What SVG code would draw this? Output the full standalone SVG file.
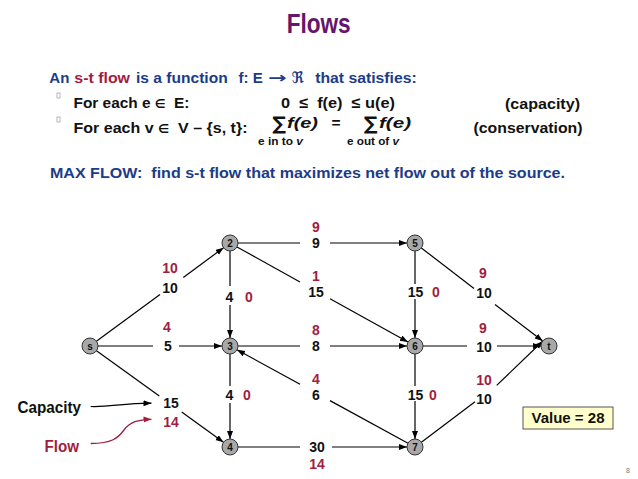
<svg xmlns="http://www.w3.org/2000/svg" width="638" height="479" viewBox="0 0 638 479">
<defs>
<style>
text{font-family:"Liberation Sans",Arial,sans-serif;font-weight:bold}
.title{font-family:"Liberation Sans Narrow","Liberation Sans",sans-serif;font-size:28px;fill:#65156b}
.blue{fill:#1c3c88;font-size:15px}
.red{fill:#a11d3f}
.blk{fill:#111;font-size:15.5px}
.pre{white-space:pre}
.sig{font-family:"DejaVu Sans",sans-serif;font-size:19px;font-weight:bold;fill:#111}
.el{font-family:"DejaVu Sans",sans-serif;font-size:12px}
.e{stroke:#000;stroke-width:1.2;fill:none}
.cap{font-size:14px;fill:#111;text-anchor:middle}
.flow{font-size:14px;fill:#a11d3f;text-anchor:middle}
.node circle{fill:#a8a8a8;stroke:#333;stroke-width:1}
.node text{font-size:10px;fill:#111;text-anchor:middle}
</style>
<marker id="ah" markerUnits="userSpaceOnUse" markerWidth="9" markerHeight="7" refX="8" refY="3" orient="auto"><path d="M0,0 L8,3 L0,6 z" fill="#000"/></marker>
<marker id="ahr" markerUnits="userSpaceOnUse" markerWidth="9" markerHeight="7" refX="8" refY="3" orient="auto"><path d="M0,0 L8,3 L0,6 z" fill="#a11d3f"/></marker>
</defs>
<rect width="638" height="479" fill="#fff"/>

<text class="title" x="286.7" y="33.3" textLength="64" lengthAdjust="spacingAndGlyphs">Flows</text>

<g id="definition">
<text class="blue" x="49.3" y="82.7">An</text>
<text class="blue red" x="74.3" y="82.7" textLength="55.7" lengthAdjust="spacingAndGlyphs">s-t flow</text>
<text class="blue" x="136" y="82.7" textLength="91.7" lengthAdjust="spacingAndGlyphs">is a function</text>
<text class="blue" x="238.6" y="82.7">f: E</text>
<text class="blue" x="268" y="83" style="font-family:'DejaVu Sans',sans-serif;font-size:15px" textLength="18.5" lengthAdjust="spacingAndGlyphs">→</text>
<text class="blue" x="291.5" y="82.7" style="font-family:'DejaVu Sans',sans-serif;font-size:16px" textLength="12.2" lengthAdjust="spacingAndGlyphs">ℜ</text>
<text class="blue" x="315.2" y="82.7" textLength="101.5" lengthAdjust="spacingAndGlyphs">that satisfies:</text>

<rect x="57" y="93" width="3" height="5" fill="none" stroke="#999" stroke-width="0.7"/>
<rect x="57" y="117" width="3" height="5" fill="none" stroke="#999" stroke-width="0.7"/>
<text class="blk pre" xml:space="preserve" x="73.5" y="108.3" textLength="116" lengthAdjust="spacingAndGlyphs">For each e <tspan class="el">∈</tspan>  E:</text>
<text class="blk pre" xml:space="preserve" x="281" y="108.3" textLength="114" lengthAdjust="spacingAndGlyphs">0  ≤  f(e)  ≤ u(e)</text>
<text class="blk" x="505" y="109" textLength="75" lengthAdjust="spacingAndGlyphs">(capacity)</text>

<text class="blk pre" xml:space="preserve" x="73.5" y="132.7" textLength="174" lengthAdjust="spacingAndGlyphs">For each v <tspan class="el">∈</tspan>  V – {s, t}:</text>
<text class="sig" x="272.5" y="129.5">∑</text>
<text class="blk" x="287" y="128" font-style="italic" textLength="31" lengthAdjust="spacingAndGlyphs">f(e)</text>
<text class="blk" x="336" y="128" text-anchor="middle">=</text>
<text class="sig" x="364" y="129.5">∑</text>
<text class="blk" x="379" y="128" font-style="italic" textLength="32" lengthAdjust="spacingAndGlyphs">f(e)</text>
<text class="blk" x="258" y="145" style="font-size:10px" textLength="45" lengthAdjust="spacingAndGlyphs">e in to <tspan font-style="italic">v</tspan></text>
<text class="blk" x="347" y="145" style="font-size:10px" textLength="52" lengthAdjust="spacingAndGlyphs">e out of <tspan font-style="italic">v</tspan></text>
<text class="blk" x="473.5" y="133" textLength="109" lengthAdjust="spacingAndGlyphs">(conservation)</text>

<text class="blue pre" xml:space="preserve" x="50" y="178.3" textLength="515" lengthAdjust="spacingAndGlyphs">MAX FLOW:  find s-t flow that maximizes net flow out of the source.</text>
</g>

<g id="connectors">
<line class="e" x1="96.4" y1="341.3" x2="160" y2="294.5"/><line class="e" x1="183.3" y1="277.4" x2="223.6" y2="247.7" marker-end="url(#ah)"/>
<line class="e" x1="98" y1="346" x2="153" y2="346"/><line class="e" x1="179" y1="346" x2="222" y2="346" marker-end="url(#ah)"/>
<line class="e" x1="96.5" y1="350.7" x2="159.3" y2="396"/><line class="e" x1="181.7" y1="412.1" x2="223.5" y2="442.3" marker-end="url(#ah)"/>
<line class="e" x1="238" y1="243" x2="300" y2="243"/><line class="e" x1="330" y1="243" x2="407" y2="243" marker-end="url(#ah)"/>
<line class="e" x1="237" y1="246.9" x2="300" y2="282"/><line class="e" x1="330" y1="298.7" x2="408" y2="342.1" marker-end="url(#ah)"/>
<line class="e" x1="230" y1="251" x2="230" y2="286"/><line class="e" x1="230" y1="305" x2="230" y2="338" marker-end="url(#ah)"/>
<line class="e" x1="238" y1="346" x2="300" y2="346"/><line class="e" x1="330" y1="346" x2="407" y2="346" marker-end="url(#ah)"/>
<line class="e" x1="408" y1="443.2" x2="330" y2="400.6"/><line class="e" x1="300" y1="384.2" x2="237" y2="349.8" marker-end="url(#ah)"/>
<line class="e" x1="230" y1="354" x2="230" y2="386"/><line class="e" x1="230" y1="403" x2="230" y2="439" marker-end="url(#ah)"/>
<line class="e" x1="238" y1="447" x2="300" y2="447"/><line class="e" x1="332" y1="447" x2="407" y2="447" marker-end="url(#ah)"/>
<line class="e" x1="415" y1="251" x2="415" y2="284"/><line class="e" x1="415" y1="299" x2="415" y2="338" marker-end="url(#ah)"/>
<line class="e" x1="415" y1="354" x2="415" y2="386"/><line class="e" x1="415" y1="401" x2="415" y2="439" marker-end="url(#ah)"/>
<line class="e" x1="421.3" y1="247.9" x2="474" y2="288.4"/><line class="e" x1="495" y1="304.6" x2="542.7" y2="341.1" marker-end="url(#ah)"/>
<line class="e" x1="423" y1="346" x2="467" y2="346"/><line class="e" x1="497" y1="346" x2="541" y2="346" marker-end="url(#ah)"/>
<line class="e" x1="421.4" y1="442.2" x2="475" y2="401.8"/><line class="e" x1="496.7" y1="385.4" x2="542.6" y2="341.2" marker-end="url(#ah)"/>
<path class="e" d="M90.7,406.5 C108,407.5 124,403 151.5,403.2" marker-end="url(#ah)"/>
<path d="M90.7,443.5 C112,443.5 118,438 124,430 C130,422 138,419.5 151.5,419.3" fill="none" stroke="#a11d3f" stroke-width="1.3" marker-end="url(#ahr)"/>
</g>

<g id="edge-labels">
<text class="cap" x="170" y="293">10</text><text class="flow" x="170" y="273">10</text>
<text class="cap" x="168" y="351">5</text><text class="flow" x="167" y="332">4</text>
<text class="cap" x="171" y="408">15</text><text class="flow" x="171" y="427">14</text>
<text class="cap" x="316" y="248">9</text><text class="flow" x="316" y="232">9</text>
<text class="cap" x="316" y="297">15</text><text class="flow" x="316" y="281">1</text>
<text class="cap" x="229.5" y="302">4</text><text class="flow" x="249" y="302">0</text>
<text class="cap" x="316" y="351">8</text><text class="flow" x="316" y="335">8</text>
<text class="cap" x="316" y="400">6</text><text class="flow" x="316" y="384">4</text>
<text class="cap" x="229.5" y="400">4</text><text class="flow" x="247" y="400">0</text>
<text class="cap" x="317" y="452">30</text><text class="flow" x="317" y="469">14</text>
<text class="cap" x="415.5" y="297">15</text><text class="flow" x="436" y="297">0</text>
<text class="cap" x="415.5" y="400">15</text><text class="flow" x="433" y="400">0</text>
<text class="cap" x="484" y="298">10</text><text class="flow" x="483" y="278">9</text>
<text class="cap" x="484" y="352">10</text><text class="flow" x="483" y="333">9</text>
<text class="cap" x="484" y="404">10</text><text class="flow" x="484" y="385">10</text>
</g>

<g id="node-s" class="node"><circle cx="90" cy="346" r="8"/><text x="90" y="349.5">s</text></g>
<g id="node-2" class="node"><circle cx="230" cy="243" r="8"/><text x="230" y="246.5">2</text></g>
<g id="node-3" class="node"><circle cx="230" cy="346" r="8"/><text x="230" y="349.5">3</text></g>
<g id="node-4" class="node"><circle cx="230" cy="447" r="8"/><text x="230" y="450.5">4</text></g>
<g id="node-5" class="node"><circle cx="415" cy="243" r="8"/><text x="415" y="246.5">5</text></g>
<g id="node-6" class="node"><circle cx="415" cy="346" r="8"/><text x="415" y="349.5">6</text></g>
<g id="node-7" class="node"><circle cx="415" cy="447" r="8"/><text x="415" y="450.5">7</text></g>
<g id="node-t" class="node"><circle cx="549" cy="346" r="8"/><text x="549" y="349.5">t</text></g>

<g id="legend">
<text class="blk" x="17.5" y="413" style="font-size:16px" textLength="63.5" lengthAdjust="spacingAndGlyphs">Capacity</text>
<text class="red" x="44.5" y="451.5" style="font-size:16px" textLength="34.5" lengthAdjust="spacingAndGlyphs">Flow</text>
</g>

<g id="value-box">
<rect x="523" y="407" width="90" height="22" fill="#ffffcc" stroke="#555" stroke-width="1"/>
<text class="blk" x="568" y="422.5" text-anchor="middle" style="font-size:15px">Value = 28</text>
</g>

<text x="628" y="473" style="font-size:7px;font-weight:normal;fill:#777" text-anchor="middle">8</text>
</svg>
